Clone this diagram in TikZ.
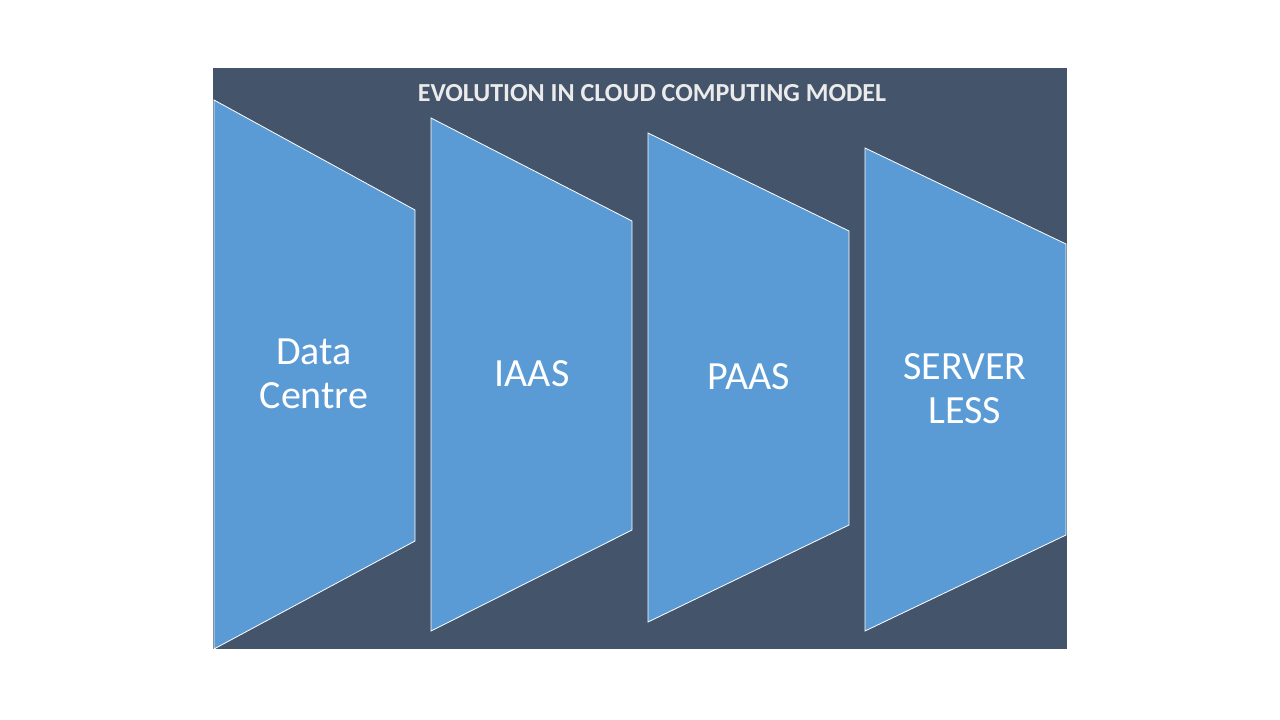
\documentclass[tikz,border=0pt]{standalone}
\usepackage{fontspec}
\setmainfont{Carlito}
\definecolor{bg}{HTML}{44546A}
\definecolor{bl}{HTML}{5B9BD5}
\begin{document}
\begin{tikzpicture}[x=0.75pt,y=-0.75pt,
  panel/.style={fill=bl,draw=white,line width=0.6pt},
  lbl/.style={text=white,font=\fontsize{30}{33}\selectfont,align=center}]
\useasboundingbox (0,0) rectangle (1280,720);
\fill[bg] (213,68) rectangle (1067,649);
\node[text=white!92!black,font=\bfseries\fontsize{19.5}{22}\selectfont] (title) at (652,93) {EVOLUTION IN CLOUD COMPUTING MODEL};
\draw[panel] (214,100) -- (415,210) -- (415,541) -- (214,649) -- cycle;
\draw[panel] (431,118) -- (632,221) -- (632,530) -- (431,631) -- cycle;
\draw[panel] (648,133) -- (849,231) -- (849,525) -- (648,622) -- cycle;
\draw[panel] (865,148) -- (1066,244) -- (1066,535) -- (865,631) -- cycle;
\node[lbl] (a) at (314,374) {Data\\Centre};
\node[lbl] (b) at (532,374) {IAAS};
\node[lbl] (c) at (749,377) {PAAS};
\node[lbl] (d) at (965,389) {SERVER\\LESS};
\end{tikzpicture}
\end{document}
